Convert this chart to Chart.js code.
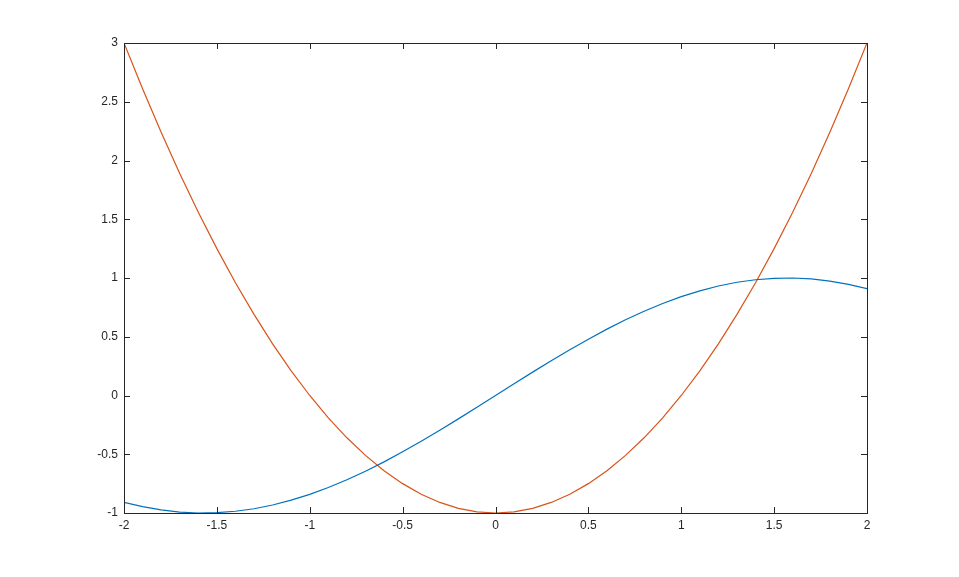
<!DOCTYPE html>
<html>
<head>
<meta charset="utf-8">
<script src="https://cdn.jsdelivr.net/npm/chart.js@4/dist/chart.umd.min.js"></script>
<style>
  html, body { margin: 0; padding: 0; background: #fff; }
  #wrap { width: 959px; height: 577px; }
</style>
</head>
<body>
<div id="wrap"><canvas id="chart" width="959" height="577"></canvas></div>
<script>
// values
const xs = [-2.0, -1.9, -1.8, -1.7, -1.6, -1.5, -1.4, -1.3, -1.2, -1.1, -1.0,
  -0.9, -0.8, -0.7, -0.6, -0.5, -0.4, -0.3, -0.2, -0.1, 0.0,
  0.1, 0.2, 0.3, 0.4, 0.5, 0.6, 0.7, 0.8, 0.9, 1.0,
  1.1, 1.2, 1.3, 1.4, 1.5, 1.6, 1.7, 1.8, 1.9, 2.0];

const blueSeries = [-0.909, -0.946, -0.974, -0.992, -1.000, -0.997, -0.985, -0.964, -0.932, -0.891, -0.841,
  -0.783, -0.717, -0.644, -0.565, -0.479, -0.389, -0.296, -0.199, -0.100, 0.000,
  0.100, 0.199, 0.296, 0.389, 0.479, 0.565, 0.644, 0.717, 0.783, 0.841,
  0.891, 0.932, 0.964, 0.985, 0.997, 1.000, 0.992, 0.974, 0.946, 0.909];

const orangeSeries = [3.00, 2.61, 2.24, 1.89, 1.56, 1.25, 0.96, 0.69, 0.44, 0.21, 0.00,
  -0.19, -0.36, -0.51, -0.64, -0.75, -0.84, -0.91, -0.96, -0.99, -1.00,
  -0.99, -0.96, -0.91, -0.84, -0.75, -0.64, -0.51, -0.36, -0.19, 0.00,
  0.21, 0.44, 0.69, 0.96, 1.25, 1.56, 1.89, 2.24, 2.61, 3.00];

const xTicks = [-2, -1.5, -1, -0.5, 0, 0.5, 1, 1.5, 2];
const yTicks = [-1, -0.5, 0, 0.5, 1, 1.5, 2, 2.5, 3];

const axisColor = "#262626";

const toPoints = (ys) => xs.map((x, i) => ({ x: x, y: ys[i] }));

// MATLAB style box with ticks pointing inwards
const boxTicks = {
  id: "boxTicks",
  afterDraw(chart) {
    const { ctx, chartArea: a, scales } = chart;
    const len = 6;
    ctx.save();
    ctx.strokeStyle = axisColor;
    ctx.lineWidth = 1;
    ctx.beginPath();
    xTicks.forEach((v) => {
      const px = Math.round(scales.x.getPixelForValue(v)) + 0.5;
      ctx.moveTo(px, a.bottom); ctx.lineTo(px, a.bottom - len);
      ctx.moveTo(px, a.top); ctx.lineTo(px, a.top + len);
    });
    yTicks.forEach((v) => {
      const py = Math.round(scales.y.getPixelForValue(v)) + 0.5;
      ctx.moveTo(a.left, py); ctx.lineTo(a.left + len, py);
      ctx.moveTo(a.right, py); ctx.lineTo(a.right - len, py);
    });
    ctx.stroke();
    ctx.strokeRect(Math.round(a.left) + 0.5, Math.round(a.top) + 0.5,
      Math.round(a.right - a.left), Math.round(a.bottom - a.top));
    ctx.restore();
  }
};

new Chart(document.getElementById("chart"), {
  type: "scatter",
  data: {
    datasets: [
      {
        data: toPoints(blueSeries),
        showLine: true,
        borderColor: "#0072BD",
        borderWidth: 1.2,
        pointRadius: 0,
        tension: 0
      },
      {
        data: toPoints(orangeSeries),
        showLine: true,
        borderColor: "#D95319",
        borderWidth: 1.2,
        pointRadius: 0,
        tension: 0
      }
    ]
  },
  options: {
    responsive: false,
    animation: false,
    layout: { padding: { left: 84, right: 92, top: 43, bottom: 0 } },
    plugins: { legend: { display: false }, tooltip: { enabled: false } },
    scales: {
      x: {
        type: "linear",
        min: -2,
        max: 2,
        afterFit: (s) => { s.height = 64; },
        afterBuildTicks: (s) => { s.ticks = xTicks.map((v) => ({ value: v })); },
        grid: { display: false, drawTicks: false },
        border: { display: false },
        ticks: {
          color: axisColor,
          padding: 5,
          maxRotation: 0,
          font: { family: "Liberation Sans, Arial, sans-serif", size: 12 },
          callback: (v) => String(v)
        }
      },
      y: {
        type: "linear",
        min: -1,
        max: 3,
        afterFit: (s) => { s.width = 40; },
        afterBuildTicks: (s) => { s.ticks = yTicks.map((v) => ({ value: v })); },
        grid: { display: false, drawTicks: false },
        border: { display: false },
        ticks: {
          color: axisColor,
          padding: 6,
          font: { family: "Liberation Sans, Arial, sans-serif", size: 12 },
          callback: (v) => String(v)
        }
      }
    }
  },
  plugins: [boxTicks]
});
</script>
</body>
</html>
